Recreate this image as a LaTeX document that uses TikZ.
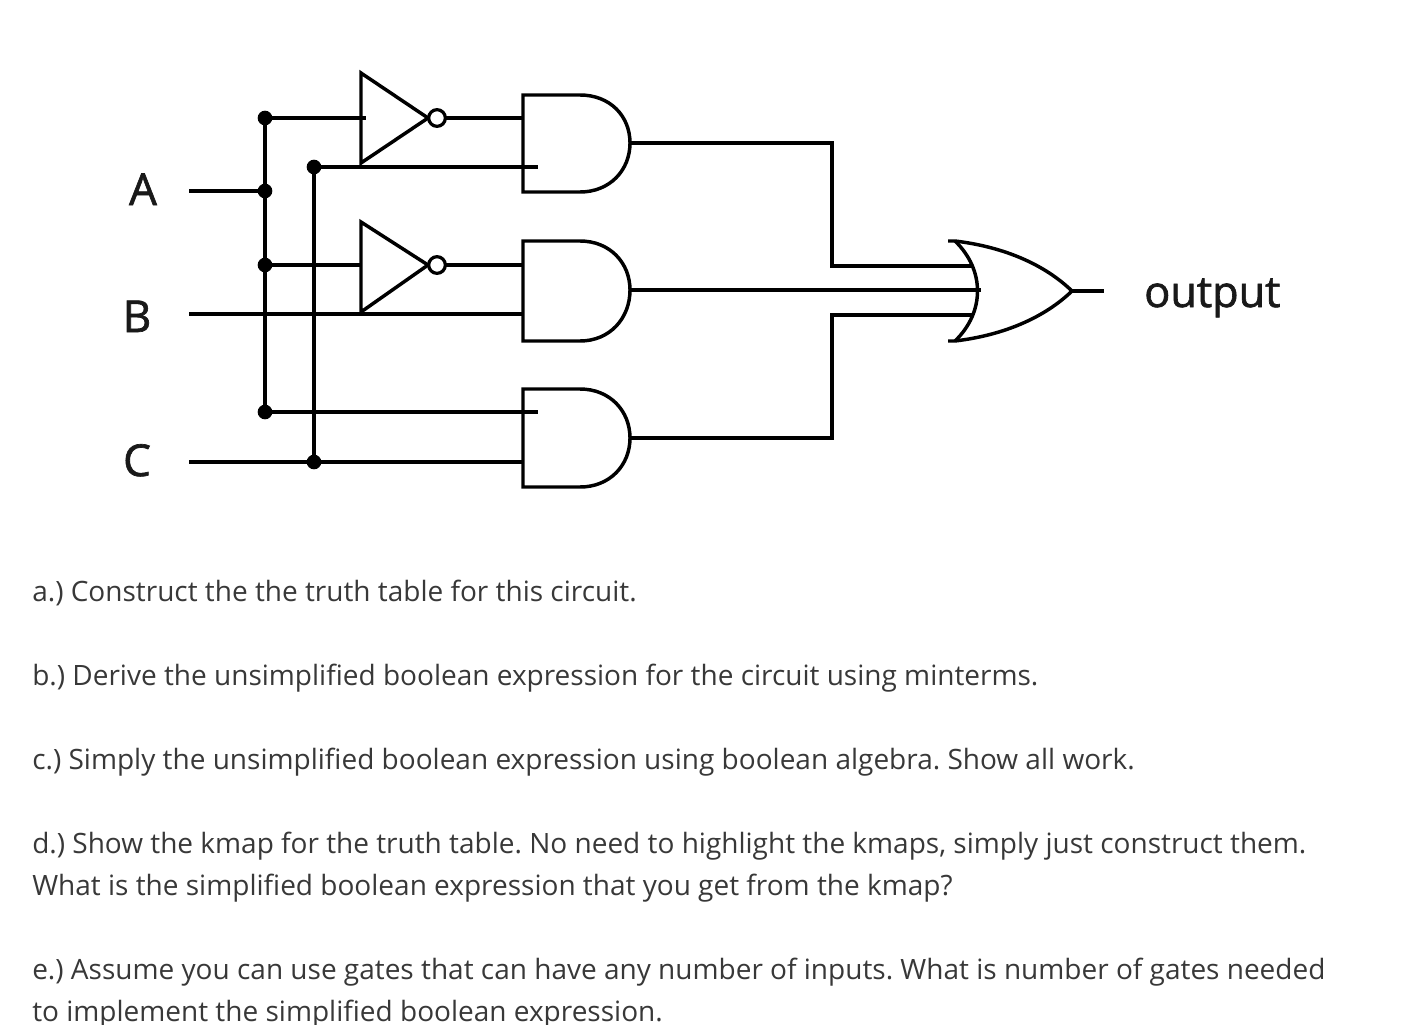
\documentclass[tikz,border=0pt]{standalone}
\usepackage{fontspec}
\setmainfont{Open Sans}
\newfontfamily\labelfont[FakeBold=1.5]{Open Sans}
\tikzset{
  x=0.75pt,y=-0.75pt,
  wire/.style={line width=2.7pt,black,line join=miter},
  gateline/.style={line width=2.6pt,black,line join=miter},
  junction/.style={circle,fill=black,draw=none,minimum size=11pt,inner sep=0pt,outer sep=0pt},
  bubble/.style={circle,draw=black,fill=white,line width=2.4pt,minimum size=12.5pt,inner sep=0pt,outer sep=0pt},
  para/.style={anchor=base west,inner sep=0pt,font=\fontsize{21pt}{25pt}\selectfont,text=black!78},
  letter/.style={anchor=base,inner sep=0pt,font=\labelfont\fontsize{33pt}{36pt}\selectfont,text=black!90},
}
\begin{document}
\frenchspacing
\begin{tikzpicture}
\useasboundingbox (0,0) rectangle (1408,1024);
% free ends and pins
\coordinate (Ain) at (189,191);
\coordinate (Bin) at (189,314);
\coordinate (Cin) at (189,462);
% junctions
\node[junction] (j1) at (265,118) {};
\node[junction] (j2) at (265,191) {};
\node[junction] (j3) at (265,265) {};
\node[junction] (j4) at (265,412) {};
\node[junction] (j5) at (314,167) {};
\node[junction] (j6) at (314,462) {};
% pins
\coordinate (inv1in) at (366,118);
\coordinate (inv2in) at (361,265);
\coordinate (a1i) at (523,118);
\coordinate (a1ii) at (538,167);
\coordinate (a2i) at (523,265);
\coordinate (a2ii) at (523,314);
\coordinate (a3i) at (538,412);
\coordinate (a3ii) at (523,462);
\coordinate (a1o) at (630,143);
\coordinate (a2o) at (630,290);
\coordinate (a3o) at (630,438);
\coordinate (o1) at (972,266);
\coordinate (o2) at (981,290);
\coordinate (o3) at (972,315);
\coordinate (oo) at (1072,291);
\coordinate (oend) at (1104,291);
% input wires
\draw[wire] (Ain) -- (j2.center);
\draw[wire] (j1.center) -- (j4.center);
\draw[wire] (j5.center) -- (j6.center);
\draw[wire] (j1.center) -- (inv1in);
\draw[wire] (j5.center) -- (a1ii);
\draw[wire] (j3.center) -- (inv2in);
\draw[wire] (Bin) -- (a2ii);
\draw[wire] (j4.center) -- (a3i);
\draw[wire] (Cin) -- (a3ii);
% inverters
\draw[gateline] (361,73) -- (428,118) -- (361,163) -- cycle;
\draw[gateline] (361,222) -- (428,265) -- (361,312) -- cycle;
\node[bubble] (b1) at (437,118) {};
\node[bubble] (b2) at (437,265) {};
\draw[wire] (b1) -- (a1i);
\draw[wire] (b2) -- (a2i);
% AND gates
\draw[gateline] (580,95) -- (523,95) -- (523,192) -- (580,192) .. controls (610,192) and (630,170) .. (630,143) .. controls (630,116) and (610,95) .. (580,95) -- cycle;
\draw[gateline] (580,241) -- (523,241) -- (523,341) -- (580,341) .. controls (610,341) and (630,318) .. (630,290) .. controls (630,263) and (610,241) .. (580,241) -- cycle;
\draw[gateline] (580,389) -- (523,389) -- (523,487) -- (580,487) .. controls (610,487) and (630,465) .. (630,438) .. controls (630,411) and (610,389) .. (580,389) -- cycle;
% outputs
\draw[wire] (a1o) -- (832,143) -- (832,266) -- (o1);
\draw[wire] (a2o) -- (o2);
\draw[wire] (a3o) -- (832,438) -- (832,315) -- (o3);
% OR gate
\draw[gateline] (948,241) -- (955,241) .. controls (1005,247) and (1045,265) .. (oo) .. controls (1045,317) and (1005,335) .. (955,341) -- (948,341);
\draw[gateline] (955,241) .. controls (985,270) and (985,312) .. (955,341);
\draw[wire] (oo) -- (oend);
% labels
\node[letter] (lA) at (143,205) {A};
\node[letter] (lB) at (137,332) {B};
\node[letter] (lC) at (137,476) {C};
\node[letter,anchor=base west,font=\labelfont\fontsize{32.4pt}{34pt}\selectfont] (lout) at (1144,307) {output};
% text
\node[para] (t1) at (32,601) {a.) Construct the the truth table for this circuit.};
\node[para] (t2) at (32,685) {b.) Derive the unsimplified boolean expression for the circuit using minterms.};
\node[para] (t3) at (32,769) {c.) Simply the unsimplified boolean expression using boolean algebra. Show all work.};
\node[para] (t4) at (32,853) {d.) Show the kmap for the truth table. No need to highlight the kmaps, simply just construct them.};
\node[para] (t5) at (32,895) {What is the simplified boolean expression that you get from the kmap?};
\node[para] (t6) at (32,979) {e.) Assume you can use gates that can have any number of inputs. What is number of gates needed};
\node[para] (t7) at (32,1021) {to implement the simplified boolean expression.};
\end{tikzpicture}
\end{document}
